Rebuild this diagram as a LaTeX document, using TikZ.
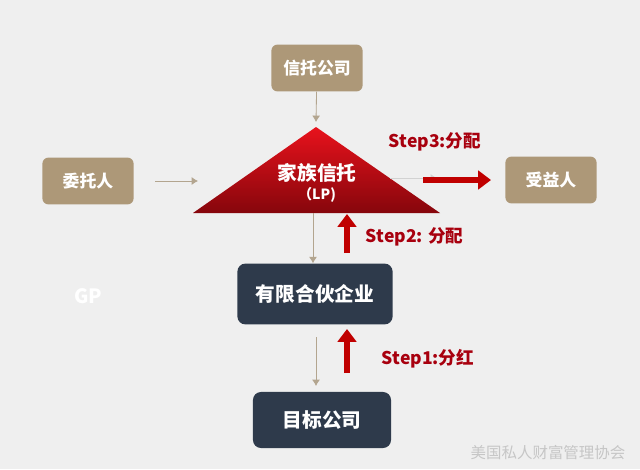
\documentclass[tikz,border=0pt]{standalone}
\usepackage{fontspec}
\usetikzlibrary{arrows.meta}
\newfontfamily\cjk{Noto Sans CJK SC}
\definecolor{FTTan}{HTML}{AD9878}
\definecolor{FTNavy}{HTML}{2E3A4B}
\definecolor{FTRed}{HTML}{C00000}
\definecolor{FTText}{HTML}{A8000E}
\definecolor{FTTop}{HTML}{E8121C}
\definecolor{FTBottom}{HTML}{86060C}
\definecolor{FTLine}{HTML}{B3A58F}
\definecolor{FTBack}{HTML}{EFEFEF}

\tikzset{
  tanbox/.style={fill=FTTan,rounded corners=0.15cm,minimum width=2.28cm,minimum height=1.17cm,
    text=white,font=\cjk\bfseries\fontsize{12}{14}\selectfont},
  navybox/.style={fill=FTNavy,rounded corners=0.2cm,text=white,
    font=\cjk\bfseries\fontsize{14}{16}\selectfont},
  thinarrow/.style={FTLine,line width=0.6pt,-{Latex[length=1.6mm,width=2mm]}},
  redarrow/.style={FTRed,line width=4pt,-{Triangle[length=3.2mm,width=4.6mm]}},
  steplabel/.style={text=FTText,anchor=west,font=\cjk\bfseries\fontsize{12.5}{14}\selectfont}
}

\begin{document}
\begin{tikzpicture}[x=0.025cm,y=-0.025cm]
\fill[FTBack] (0,0) rectangle (640,469);
\useasboundingbox (0,0) rectangle (640,469);
% family trust triangle
\shade[top color=FTTop,bottom color=FTBottom] (316,127) -- (440,213) -- (193,213) -- cycle;
\node[text=white,font=\cjk\bfseries\fontsize{14}{16}\selectfont] (trust) at (317,173) {家族信托};
\node[text=white,font=\cjk\bfseries\fontsize{10}{12}\selectfont] (lp) at (317,195) {（LP)};
\coordinate (apex) at (316,122);
\coordinate (leftout) at (155,181);
\coordinate (leftin) at (198,181);
\coordinate (rightout) at (390,178);
\coordinate (rightend) at (437,178);
\coordinate (basedown) at (313,213);
\coordinate (lpdown) at (316,337);
\coordinate (targetin) at (316,386);
\coordinate (step3from) at (423,180);
\coordinate (step3to) at (491,180);

% boxes
\node[tanbox] (company) at (317,68) {信托公司};
\node[tanbox] (settlor) at (88,181) {委托人};
\node[tanbox] (benef) at (551,180) {受益人};
\node[navybox,minimum width=3.88cm,minimum height=1.52cm] (lpfirm) at (315,294) {有限合伙企业};
\node[navybox,minimum width=3.45cm,minimum height=1.4cm] (target) at (322,420) {目标公司};

% thin connectors
\draw[thinarrow] (company) -- (apex);
\draw[thinarrow] (leftout) -- (leftin);
\draw[thinarrow,draw=gray!35] (rightout) -- (rightend);
\draw[thinarrow] (basedown) -- (lpfirm.north -| basedown);
\draw[thinarrow] (lpdown) -- (targetin);

% red flows
\draw[redarrow] (step3from) -- (step3to);
\draw[redarrow] (347,253) -- (347,214);
\draw[redarrow] (347,373) -- (347,329);
\node[steplabel] (step3) at (384,142) {Step3:分配};
\node[steplabel] (step2) at (361,237) {Step2: 分配};
\node[steplabel] (step1) at (377,359) {Step1:分红};

% other texts
\node[text=white,font=\cjk\bfseries\fontsize{14}{16}\selectfont] (gp) at (88,296) {GP};
\node[text=gray!45,font=\cjk\fontsize{11}{13}\selectfont] (mark) at (548,453) {美国私人财富管理协会};
\end{tikzpicture}
\end{document}
